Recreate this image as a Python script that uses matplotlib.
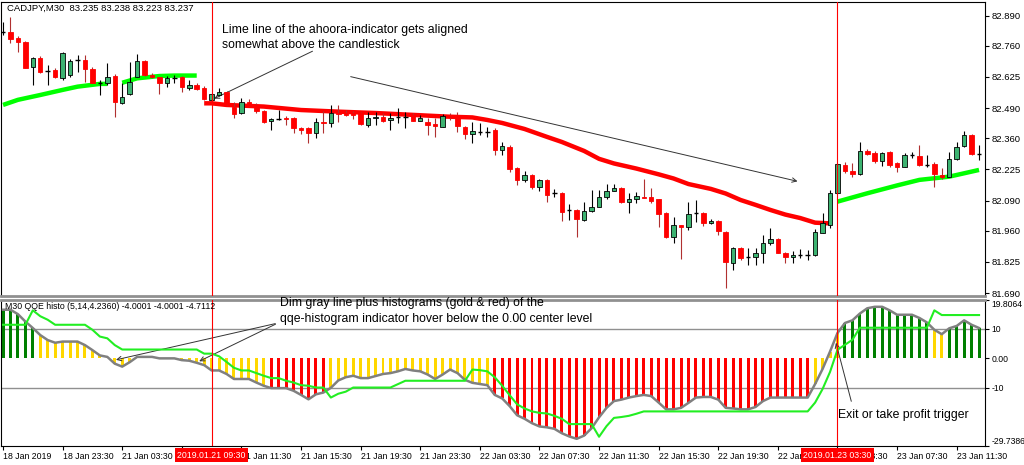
import matplotlib
matplotlib.use("Agg")
import matplotlib.pyplot as plt
import numpy as np

# ---- price data (CADJPY M30), bar index 0 = 18 Jan 19:30 ----
opens = [
    82.818, 82.821, 82.795, 82.778, 82.670, 82.706, 82.652, 82.655, 82.619, 82.634,
    82.699, 82.699, 82.660, 82.600, 82.598, 82.629, 82.511, 82.552, 82.626, 82.694,
    82.634, 82.624, 82.600, 82.619, 82.624, 82.579, 82.590, 82.576, 82.526, 82.547,
    82.562, 82.495, 82.468, 82.518, 82.504, 82.479, 82.435, 82.443, 82.449, 82.446,
    82.406, 82.403, 82.382, 82.432, 82.427, 82.471, 82.468, 82.471, 82.471, 82.418,
    82.446, 82.453, 82.439, 82.453, 82.451, 82.461, 82.436, 82.432, 82.422, 82.410,
    82.461, 82.461, 82.408, 82.379, 82.389, 82.389, 82.396, 82.310, 82.324, 82.230,
    82.180, 82.201, 82.151, 82.180, 82.122, 82.125, 82.050, 82.050, 82.007, 82.046,
    82.064, 82.105, 82.132, 82.146, 82.083, 82.096, 82.108, 82.105, 82.096, 82.038,
    81.932, 81.984, 81.975, 82.038, 82.038, 81.992, 82.004, 81.956, 81.822, 81.884,
    81.845, 81.848, 81.863, 81.909, 81.923, 81.865, 81.845, 81.855, 81.855, 81.855,
    81.952, 81.985, 82.125, 82.245, 82.220, 82.206, 82.306, 82.298, 82.263, 82.302,
    82.252, 82.237, 82.288, 82.283, 82.245, 82.249, 82.201, 82.194, 82.269, 82.327,
    82.374, 82.291]
highs = [
    82.864, 82.886, 82.802, 82.782, 82.713, 82.716, 82.677, 82.663, 82.732, 82.702,
    82.720, 82.720, 82.670, 82.612, 82.684, 82.638, 82.598, 82.691, 82.725, 82.699,
    82.644, 82.625, 82.631, 82.634, 82.629, 82.612, 82.598, 82.586, 82.557, 82.576,
    82.566, 82.518, 82.532, 82.528, 82.513, 82.482, 82.448, 82.482, 82.456, 82.450,
    82.410, 82.407, 82.446, 82.479, 82.504, 82.504, 82.482, 82.479, 82.474, 82.475,
    82.475, 82.468, 82.468, 82.490, 82.475, 82.468, 82.461, 82.446, 82.446, 82.465,
    82.471, 82.475, 82.413, 82.432, 82.425, 82.410, 82.405, 82.345, 82.331, 82.236,
    82.220, 82.206, 82.183, 82.184, 82.139, 82.128, 82.076, 82.054, 82.086, 82.137,
    82.137, 82.162, 82.162, 82.149, 82.122, 82.129, 82.183, 82.144, 82.099, 82.041,
    82.021, 81.985, 82.086, 82.093, 82.041, 82.010, 82.007, 81.959, 81.891, 81.890,
    81.884, 81.884, 81.942, 81.971, 81.927, 81.870, 81.874, 81.880, 81.877, 81.968,
    82.036, 82.137, 82.255, 82.259, 82.255, 82.343, 82.314, 82.306, 82.302, 82.305,
    82.259, 82.298, 82.302, 82.331, 82.288, 82.259, 82.231, 82.302, 82.343, 82.393,
    82.379, 82.331]
lows = [
    82.807, 82.773, 82.734, 82.663, 82.590, 82.644, 82.590, 82.622, 82.612, 82.626,
    82.648, 82.605, 82.598, 82.547, 82.590, 82.453, 82.508, 82.547, 82.624, 82.629,
    82.619, 82.550, 82.581, 82.600, 82.561, 82.569, 82.569, 82.526, 82.523, 82.543,
    82.504, 82.446, 82.463, 82.500, 82.471, 82.427, 82.396, 82.439, 82.418, 82.382,
    82.379, 82.341, 82.360, 82.384, 82.410, 82.432, 82.456, 82.442, 82.418, 82.410,
    82.418, 82.432, 82.396, 82.425, 82.403, 82.435, 82.435, 82.374, 82.367, 82.409,
    82.439, 82.389, 82.356, 82.338, 82.374, 82.367, 82.288, 82.288, 82.216, 82.158,
    82.172, 82.139, 82.133, 82.086, 82.105, 82.001, 82.007, 81.935, 82.004, 82.043,
    82.062, 82.098, 82.130, 82.080, 82.036, 82.079, 82.101, 82.082, 81.975, 81.928,
    81.906, 81.837, 81.963, 81.999, 81.981, 81.989, 81.942, 81.711, 81.791, 81.834,
    81.812, 81.812, 81.820, 81.899, 81.863, 81.822, 81.820, 81.841, 81.834, 81.851,
    81.949, 81.971, 82.119, 82.209, 82.192, 82.201, 82.288, 82.252, 82.240, 82.235,
    82.213, 82.235, 82.274, 82.240, 82.235, 82.151, 82.183, 82.191, 82.266, 82.321,
    82.288, 82.264]
closes = [
    82.818, 82.788, 82.775, 82.665, 82.706, 82.648, 82.652, 82.626, 82.728, 82.696,
    82.699, 82.658, 82.600, 82.600, 82.626, 82.518, 82.540, 82.605, 82.694, 82.634,
    82.624, 82.600, 82.619, 82.619, 82.581, 82.590, 82.572, 82.529, 82.552, 82.562,
    82.508, 82.465, 82.518, 82.504, 82.479, 82.432, 82.444, 82.443, 82.442, 82.403,
    82.396, 82.382, 82.432, 82.425, 82.468, 82.465, 82.461, 82.461, 82.422, 82.446,
    82.453, 82.436, 82.449, 82.453, 82.451, 82.436, 82.446, 82.418, 82.413, 82.458,
    82.451, 82.413, 82.379, 82.392, 82.389, 82.389, 82.310, 82.327, 82.227, 82.180,
    82.201, 82.148, 82.180, 82.115, 82.122, 82.043, 82.050, 82.010, 82.046, 82.062,
    82.105, 82.134, 82.144, 82.083, 82.098, 82.111, 82.103, 82.090, 82.033, 81.932,
    81.985, 81.978, 82.033, 82.038, 81.992, 82.004, 81.959, 81.826, 81.884, 81.841,
    81.845, 81.863, 81.906, 81.923, 81.865, 81.848, 81.855, 81.855, 81.855, 81.956,
    81.992, 82.125, 82.249, 82.220, 82.206, 82.306, 82.292, 82.263, 82.298, 82.245,
    82.237, 82.288, 82.288, 82.245, 82.245, 82.206, 82.194, 82.269, 82.321, 82.374,
    82.291, 82.291]

# ahoora indicator (thick line), pieces as (bar index, price)
lime1_idx = [0, 2, 5, 8, 10, 13, 14]
lime1_val = [82.504, 82.526, 82.547, 82.569, 82.583, 82.595, 82.595]
lime2_idx = [16, 18, 21, 23, 26]
lime2_val = [82.600, 82.619, 82.629, 82.631, 82.631]
red_idx = [27, 28, 30, 35, 40, 45, 50, 55, 60, 63, 65, 67, 70, 73, 75, 78, 80,
           82, 85, 88, 90, 92, 95, 97, 99, 101, 103, 105, 107, 109, 111]
red_val = [82.511, 82.511, 82.504, 82.497, 82.482, 82.475, 82.469, 82.461,
           82.453, 82.450, 82.439, 82.426, 82.400, 82.366, 82.344, 82.305,
           82.271, 82.251, 82.229, 82.204, 82.186, 82.162, 82.141, 82.121,
           82.093, 82.072, 82.050, 82.030, 82.015, 81.995, 81.992]
lime3_idx = [112, 116, 120, 123, 127, 131]
lime3_val = [82.086, 82.122, 82.156, 82.180, 82.194, 82.223]

# QQE histo indicator
qqe = [
    16.5, 16.5, 15.0, 12.5, 10.3, 7.9, 6.2, 5.3, 5.7, 5.7,
    5.7, 4.5, 2.8, 1.0, 0.5, -1.8, -2.8, -1.3, 0.5, 0.5,
    0.5, 0.0, 0.0, 0.0, -0.6, -0.8, -1.5, -2.3, -4.1, -4.1,
    -5.3, -7.0, -7.0, -7.0, -8.2, -9.3, -10.1, -10.1, -10.1, -11.0,
    -12.4, -13.9, -12.2, -11.6, -10.0, -7.5, -6.4, -5.9, -6.7, -6.7,
    -6.0, -5.3, -5.0, -4.4, -3.6, -4.1, -4.4, -5.5, -7.0, -5.5,
    -3.8, -5.0, -7.3, -8.3, -8.7, -9.1, -12.4, -13.6, -16.2, -19.3,
    -20.5, -22.0, -23.1, -23.4, -23.9, -25.4, -26.5, -27.3, -26.2, -23.7,
    -20.0, -16.8, -14.5, -14.0, -13.3, -12.8, -12.4, -12.8, -15.0, -17.3,
    -17.3, -16.8, -15.1, -13.3, -13.1, -13.1, -14.0, -16.8, -17.0, -17.3,
    -17.3, -16.5, -14.5, -13.3, -13.3, -13.3, -13.3, -13.3, -13.3, -8.7,
    -3.6, 2.3, 8.6, 12.0, 12.9, 15.2, 17.0, 17.5, 17.5, 16.3,
    14.8, 14.8, 14.8, 13.7, 12.2, 9.7, 8.2, 10.2, 11.0, 12.9,
    11.4, 10.3]
hist_codes = ("GGGGG" + "Y" * 31 + "R" * 8 + "Y" * 22 + "R" * 43 + "YYYY"
              + "G" * 12 + "YY" + "GGGGG")
sig_idx = [0, 3, 4, 5, 6, 7, 11, 12, 13, 14, 15, 16, 26, 27, 28, 29, 30, 31, 32, 33,
           34, 35, 36, 37, 38, 39, 40, 41, 42, 43, 44, 45, 46, 47, 52, 54, 62, 63, 64, 65,
           66, 67, 68, 69, 70, 71, 72, 73, 74, 75, 76, 79, 80, 81, 82, 83, 84, 85, 86, 108,
           109, 110, 111, 112, 113, 114, 115, 124, 125, 126, 131]
sig_val = [11.4, 11.4, 16.3, 14.3, 13.1, 11.4, 11.4, 9.7, 7.4, 6.8,
           4.5, 3.0, 3.0, 1.6, 1.6, 0.7, -1.2, -3.2, -4.1, -4.1,
           -5.0, -5.9, -6.7, -6.7, -7.6, -8.2, -9.1, -9.3, -9.9, -9.9,
           -13.3, -12.0, -11.3, -9.9, -9.9, -7.6, -7.6, -3.8, -4.0, -4.4,
           -6.4, -9.3, -12.5, -15.6, -17.0, -18.0, -18.5, -18.7, -19.5, -20.5,
           -22.3, -22.3, -26.6, -23.0, -20.2, -19.9, -19.5, -18.8, -18.0, -18.0,
           -15.0, -10.4, -4.6, 2.9, 4.6, 6.3, 10.4, 10.4, 16.3, 14.7,
           14.7]

time_idx = [0, 8, 16, 24, 32, 40, 48, 56, 64, 72, 80, 88, 96, 104, 112, 120, 128]
time_labels = ["18 Jan 2019", "18 Jan 23:30", "21 Jan 03:30", "21 Jan 07:30",
               "21 Jan 11:30", "21 Jan 15:30", "21 Jan 19:30", "21 Jan 23:30",
               "22 Jan 03:30", "22 Jan 07:30", "22 Jan 11:30", "22 Jan 15:30",
               "22 Jan 19:30", "22 Jan 23:30", "23 Jan 03:30", "23 Jan 07:30",
               "23 Jan 11:30"]
marker_idx = [28, 112]
marker_labels = ["2019.01.21 09:30", "2019.01.23 03:30"]
price_ticks = [82.890, 82.760, 82.625, 82.490, 82.360, 82.225, 82.090, 81.960, 81.825, 81.690]
qqe_ticks = [19.8064, 10, 0, -10, -29.7386]
qqe_tick_labels = ["19.8064", "10", "0.00", "-10", "-29.7386"]
qqe_levels = [10, -10]

W, H = 1024, 465
AXFONT = "Liberation Sans"


def px(x, y):
    return x / W, 1 - y / H


fig = plt.figure(figsize=(W / 100, H / 100), dpi=100)
fig.patch.set_facecolor("white")
ax1 = fig.add_axes([1 / W, 1 - 296 / H, 984 / W, 294 / H])
ax2 = fig.add_axes([1 / W, 1 - 446 / H, 984 / W, 146 / H], sharex=ax1)

# ---- candles ----
o = np.array(opens)
c = np.array(closes)
hi = np.array(highs)
lo = np.array(lows)
x = np.arange(len(o))
up = c > o
dn = c < o
dj = c == o
ax1.vlines(x[up], lo[up], hi[up], color="black", lw=0.8, zorder=3)
ax1.vlines(x[dn], lo[dn], hi[dn], color="#b03030", lw=0.8, zorder=3)
ax1.vlines(x[dj], lo[dj], hi[dj], color="black", lw=0.8, zorder=3)
ax1.bar(x[up], c[up] - o[up], bottom=o[up], width=0.6, color="#3cb371",
        edgecolor="black", linewidth=0.6, zorder=4)
ax1.bar(x[dn], o[dn] - c[dn], bottom=c[dn], width=0.6, color="#ff0000",
        edgecolor="#ff0000", linewidth=0.6, zorder=4)
ax1.hlines(o[dj], x[dj] - 0.3, x[dj] + 0.3, color="black", lw=1.0, zorder=4)

for idx, val, col in [(lime1_idx, lime1_val, "#00ff00"), (lime2_idx, lime2_val, "#00ff00"),
                      (red_idx, red_val, "#ff0000"), (lime3_idx, lime3_val, "#00ff00")]:
    ax1.plot(idx, val, color=col, lw=3.2, solid_capstyle="butt", zorder=2)

# ---- QQE panel ----
cmap = {"G": "#008000", "Y": "#ffd700", "R": "#ff0000"}
q = np.array(qqe)
ax2.bar(x, q, width=0.4, color=[cmap[k] for k in hist_codes], zorder=2)
for lv in qqe_levels:
    ax2.axhline(lv, color="#909090", lw=1.0, zorder=1)
ax2.plot(x, q, color="#808080", lw=1.8, zorder=3)
ax2.plot(sig_idx, sig_val, color="#22ee22", lw=1.5, zorder=4)

for m in marker_idx:
    ax1.axvline(m, color="#ff0000", lw=0.8, zorder=5)
    ax2.axvline(m, color="#ff0000", lw=0.8, zorder=5)

# ---- axes styling ----
ax1.set_xlim(-0.27, 131.8)
ax1.set_ylim(81.678, 82.949)
ax2.set_ylim(-29.7386, 19.8064)
for ax in (ax1, ax2):
    ax.yaxis.tick_right()
    ax.tick_params(axis="y", direction="out", length=3, pad=2)
    for s in ax.spines.values():
        s.set_linewidth(0.8)
ax1.spines["bottom"].set_color("#909090")
ax1.spines["bottom"].set_linewidth(2)
ax2.spines["top"].set_color("#909090")
ax2.spines["top"].set_linewidth(2)

ax1.set_yticks(price_ticks)
ax1.set_yticklabels([f"{p:.3f}" for p in price_ticks], family=AXFONT, fontsize=6.8)
ax1.tick_params(axis="x", bottom=False, labelbottom=False)
ax2.set_yticks(qqe_ticks)
ax2.set_yticklabels(qqe_tick_labels, family=AXFONT, fontsize=6.2)
ax2.tick_params(axis="y", pad=1.5)
lbls = ax2.get_yticklabels()
lbls[0].set_va("top")
lbls[-1].set_va("bottom")

ax2.set_xticks(time_idx)
ax2.set_xticklabels(time_labels, ha="left", fontsize=6.3, family=AXFONT)
ax2.tick_params(axis="x", direction="out", length=3, pad=1)

for m, lab in zip(marker_idx, marker_labels):
    ax2.annotate(lab, xy=(m, 0), xycoords=("data", "axes fraction"),
                 xytext=(0, -6.5), textcoords="offset points", ha="center", va="center",
                 fontsize=6.3, family=AXFONT, color="white", zorder=10,
                 annotation_clip=False,
                 bbox=dict(boxstyle="square,pad=0.3", fc="#ff0000", ec="none"))

# ---- texts & annotations ----
fig.text(*px(7, 8), "CADJPY,M30  83.235 83.238 83.223 83.237", fontsize=6.8,
         family=AXFONT, va="center")
fig.text(*px(5, 306), "M30 QQE histo (5,14,4.2360) -4.0001 -4.0001 -4.7112",
         fontsize=6.3, family=AXFONT, va="center")

note = dict(family="Liberation Sans", fontsize=8.8, color="black", va="center")
fig.text(*px(222, 30), "Lime line of the ahoora-indicator gets aligned", **note)
fig.text(*px(222, 45), "somewhat above the candlestick", **note)
fig.text(*px(280, 303), "Dim gray line plus histograms (gold & red) of the", **note)
fig.text(*px(280, 319), "qqe-histogram indicator hover below the 0.00 center level", **note)
fig.text(*px(838, 415), "Exit or take profit trigger", **note)

arrow = dict(arrowstyle="->", color="#333333", lw=0.7, mutation_scale=8)
ax1.annotate("", xy=(28.0, 82.526), xytext=px(315, 50), textcoords="figure fraction",
             arrowprops=arrow)
ax1.annotate("", xy=(107, 82.171), xytext=(46.3, 82.629), arrowprops=arrow)
ax2.annotate("", xy=(14.8, -0.7), xytext=px(278, 323), textcoords="figure fraction",
             arrowprops=arrow)
ax2.annotate("", xy=(26.0, -1.4), xytext=px(278, 323), textcoords="figure fraction",
             arrowprops=arrow)
ax2.annotate("", xy=(111.7, 6.2), xytext=px(852, 404), textcoords="figure fraction",
             arrowprops=arrow)

fig.savefig("out.png", dpi=100)
